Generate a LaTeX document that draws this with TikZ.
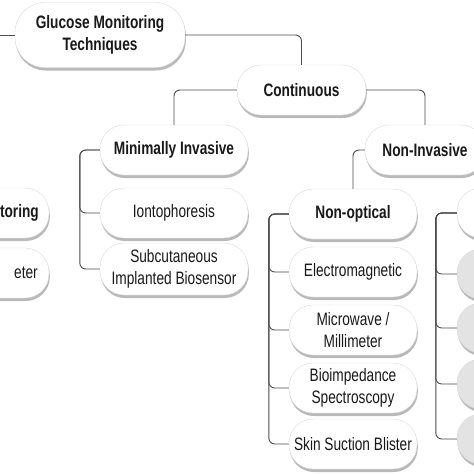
\documentclass[tikz,border=0pt]{standalone}
\usepackage{fontspec}
\setmainfont{Liberation Sans}[FakeStretch=0.76]
\usetikzlibrary{shadows}
\begin{document}
\begin{tikzpicture}[x=1pt,y=-1pt,
  pill/.style={draw=gray!30, fill=white, rounded corners=24pt, minimum height=50pt,
    minimum width=148pt, align=center, inner sep=0pt, text=black!90,
    font=\fontsize{18}{22}\selectfont,
    drop shadow={shadow xshift=0.8pt, shadow yshift=-3pt, fill=gray!55, opacity=1}},
  hdr/.style={pill, font=\fontsize{18}{22}\selectfont\bfseries},
  grey/.style={pill, fill=gray!22},
  lbl/.style={inner sep=0pt, anchor=east, text=black!90, font=\fontsize{18}{22}\selectfont},
  conn/.style={draw=black!70, line width=0.9pt, rounded corners=6pt}]
\useasboundingbox (0,0) rectangle (474,474);
\fill[white] (0,0) rectangle (474,474);
\clip (0,0) rectangle (474,474);

% top
\node[hdr, minimum width=170pt, minimum height=65pt, rounded corners=30pt] (gmt) at (100,35) {Glucose Monitoring\\Techniques};
\node[hdr, minimum width=129pt] (cont) at (301.5,90) {Continuous};
\coordinate (lft) at (-20,35);

% left partial column
\node[pill, minimum width=150pt] (smon) at (-26,213) {};
\node[lbl, font=\fontsize{18}{22}\selectfont\bfseries] (smontxt) at (39,213) {toring};
\node[pill, minimum width=150pt] (gmeter) at (-26,273) {};
\node[lbl] (gmetertxt) at (38,273) {eter};

% minimally invasive
\node[hdr] (mi) at (174,150) {Minimally Invasive};
\node[pill] (ion) at (174,213) {Iontophoresis};
\node[pill, minimum height=52pt] (subc) at (174,269) {Subcutaneous\\Implanted Biosensor};

% non-invasive
\node[hdr, minimum width=120pt] (ni) at (425,150) {Non-Invasive};
\node[hdr, minimum width=128pt] (nopt) at (353,214) {Non-optical};
\node[pill, minimum width=128pt] (em) at (353,272) {Electromagnetic};
\node[pill, minimum width=128pt] (mw) at (353,330) {Microwave /\\Millimeter};
\node[pill, minimum width=128pt] (bio) at (353,388) {Bioimpedance\\Spectroscopy};
\node[pill, minimum width=128pt] (ssb) at (353,444) {Skin Suction Blister};

% right partial column
\node[pill, minimum width=133pt] (opt) at (523.5,213) {};
\node[grey, minimum width=133pt] (r1) at (523.5,274) {};
\node[grey, minimum width=133pt] (r2) at (523.5,328) {};
\node[grey, minimum width=133pt] (r3) at (523.5,384) {};
\node[grey, minimum width=133pt] (r4) at (523.5,439) {};

% connectors
\draw[conn] (gmt.west) -- (lft);
\draw[conn] (gmt.east) -| (cont.north);
\draw[conn] (cont.west) -| (mi.north);
\draw[conn] (cont.east) -| (ni.north);
\draw[conn] (mi.west) -- ++(-20,0) |- (ion.west);
\draw[conn] (mi.west) -- ++(-20,0) |- (subc.west);
\draw[conn] (ni.west) -| (nopt.north);
\foreach \c in {em,mw,bio,ssb}{
  \draw[conn] (nopt.west) -- ++(-20,0) |- (\c.west);
}
\foreach \c in {r1,r2,r3,r4}{
  \draw[conn] (opt.west) -- ++(-21,0) |- (\c.west);
}
\end{tikzpicture}
\end{document}
